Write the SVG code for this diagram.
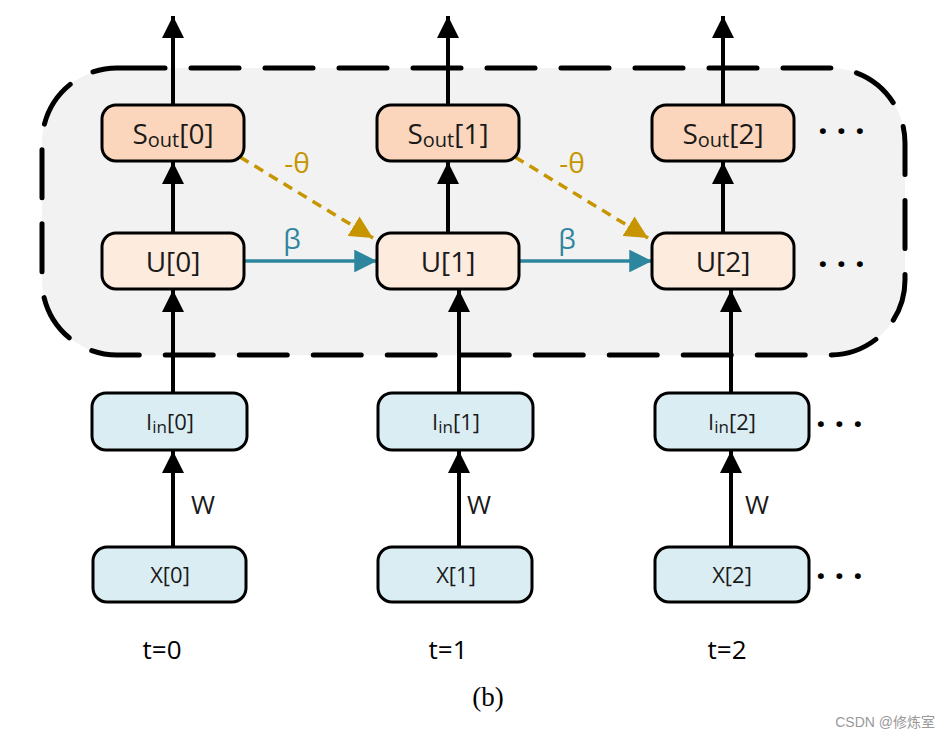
<svg xmlns="http://www.w3.org/2000/svg" width="951" height="737" viewBox="0 0 951 737">
<defs>
<style>
.box{stroke:#000;stroke-width:3}
.s{fill:#fbd6bc}
.u{fill:#fdebdd}
.b{fill:#daedf3}
.t{font-family:"Open Sans","Noto Sans",sans-serif;fill:#1a1a1a;text-anchor:middle}
.big{font-size:28px}
.sm{font-size:22px}
.sub{font-size:20px}
.dots{font-family:"Open Sans",sans-serif;font-size:34px;font-weight:bold;fill:#000}
.k{stroke:#000;stroke-width:4;fill:none}
.lab{font-family:"Open Sans","Noto Sans",sans-serif;text-anchor:middle}
</style>
<marker id="ak" viewBox="0 0 10 10" refX="10" refY="5" markerWidth="5.5" markerHeight="5.5" markerUnits="strokeWidth" orient="auto"><path d="M0,0L10,5L0,10z" fill="#000"/></marker>
<marker id="at" viewBox="0 0 10 10" refX="10" refY="5" markerWidth="6.5" markerHeight="6.5" markerUnits="strokeWidth" orient="auto"><path d="M0,0L10,5L0,10z" fill="#2e869e"/></marker>
<marker id="ag" viewBox="0 0 10 10" refX="10" refY="5" markerWidth="6.5" markerHeight="6.5" markerUnits="strokeWidth" orient="auto"><path d="M0,0L10,5L0,10z" fill="#c69500"/></marker>
</defs>
<rect width="951" height="737" fill="#fff"/>
<rect x="42" y="68" width="863" height="287" rx="75" fill="#f2f2f2" stroke="#000" stroke-width="5" stroke-dasharray="48,26" stroke-linecap="round"/>
<g id="connectors">
<line class="k" x1="173" y1="105" x2="173" y2="16" marker-end="url(#ak)"/>
<line class="k" x1="448" y1="105" x2="448" y2="16" marker-end="url(#ak)"/>
<line class="k" x1="723" y1="105" x2="723" y2="16" marker-end="url(#ak)"/>
<line class="k" x1="173" y1="233" x2="173" y2="162" marker-end="url(#ak)"/>
<line class="k" x1="448" y1="233" x2="448" y2="162" marker-end="url(#ak)"/>
<line class="k" x1="723" y1="233" x2="723" y2="162" marker-end="url(#ak)"/>
<line class="k" x1="173" y1="393" x2="173" y2="290" marker-end="url(#ak)"/>
<line class="k" x1="459" y1="393" x2="459" y2="290" marker-end="url(#ak)"/>
<line class="k" x1="731" y1="393" x2="731" y2="290" marker-end="url(#ak)"/>
<line class="k" x1="173" y1="547" x2="173" y2="451" marker-end="url(#ak)"/>
<line class="k" x1="459" y1="547" x2="459" y2="451" marker-end="url(#ak)"/>
<line class="k" x1="731" y1="547" x2="731" y2="451" marker-end="url(#ak)"/>
<line x1="244" y1="261" x2="377" y2="261" stroke="#2e869e" stroke-width="3.5" marker-end="url(#at)"/>
<line x1="519" y1="261" x2="652" y2="261" stroke="#2e869e" stroke-width="3.5" marker-end="url(#at)"/>
<line x1="240" y1="157" x2="373" y2="238" stroke="#c69500" stroke-width="3.5" stroke-dasharray="10,7" marker-end="url(#ag)"/>
<line x1="515" y1="157" x2="648" y2="238" stroke="#c69500" stroke-width="3.5" stroke-dasharray="10,7" marker-end="url(#ag)"/>
<text class="lab" x="292" y="249" font-size="28" fill="#2e869e">β</text>
<text class="lab" x="567" y="249" font-size="28" fill="#2e869e">β</text>
<text class="lab" x="297" y="173" font-size="28" fill="#c69500">-θ</text>
<text class="lab" x="572" y="173" font-size="28" fill="#c69500">-θ</text>
<text class="lab" x="203" y="514" font-size="26" fill="#1a1a1a">W</text>
<text class="lab" x="479" y="514" font-size="26" fill="#1a1a1a">W</text>
<text class="lab" x="757" y="514" font-size="26" fill="#1a1a1a">W</text>
</g>
<g id="sout0"><rect class="box s" x="102" y="105" width="142" height="56" rx="14"/><text class="t big" x="173" y="144">S<tspan class="sub" dy="3">out</tspan><tspan dy="-3">[0]</tspan></text></g>
<g id="sout1"><rect class="box s" x="377" y="105" width="142" height="56" rx="14"/><text class="t big" x="448" y="144">S<tspan class="sub" dy="3">out</tspan><tspan dy="-3">[1]</tspan></text></g>
<g id="sout2"><rect class="box s" x="652" y="105" width="142" height="56" rx="14"/><text class="t big" x="723" y="144">S<tspan class="sub" dy="3">out</tspan><tspan dy="-3">[2]</tspan></text></g>
<g id="u0"><rect class="box u" x="102" y="233" width="142" height="56" rx="14"/><text class="t big" x="173" y="272">U[0]</text></g>
<g id="u1"><rect class="box u" x="377" y="233" width="142" height="56" rx="14"/><text class="t big" x="448" y="272">U[1]</text></g>
<g id="u2"><rect class="box u" x="652" y="233" width="142" height="56" rx="14"/><text class="t big" x="723" y="272">U[2]</text></g>
<g id="iin0"><rect class="box b" x="92" y="393" width="155" height="57" rx="14"/><text class="t sm" x="170" y="430">I<tspan font-size="17" dy="3">in</tspan><tspan dy="-3">[0]</tspan></text></g>
<g id="iin1"><rect class="box b" x="378" y="393" width="155" height="57" rx="14"/><text class="t sm" x="456" y="430">I<tspan font-size="17" dy="3">in</tspan><tspan dy="-3">[1]</tspan></text></g>
<g id="iin2"><rect class="box b" x="655" y="393" width="154" height="57" rx="14"/><text class="t sm" x="732" y="430">I<tspan font-size="17" dy="3">in</tspan><tspan dy="-3">[2]</tspan></text></g>
<g id="x0"><rect class="box b" x="93" y="547" width="153" height="55" rx="14"/><text class="t sm" x="170" y="583">X[0]</text></g>
<g id="x1"><rect class="box b" x="378" y="547" width="154" height="55" rx="14"/><text class="t sm" x="456" y="583">X[1]</text></g>
<g id="x2"><rect class="box b" x="655" y="547" width="154" height="55" rx="14"/><text class="t sm" x="732" y="583">X[2]</text></g>
<g id="dots">
<text class="dots" x="818" y="143">· · ·</text>
<text class="dots" x="818" y="276">· · ·</text>
<text class="dots" x="816" y="436">· · ·</text>
<text class="dots" x="816" y="588">· · ·</text>
</g>
<g id="labels">
<text class="lab" x="162" y="659" font-size="26" fill="#000">t=0</text>
<text class="lab" x="448" y="659" font-size="26" fill="#000">t=1</text>
<text class="lab" x="727" y="659" font-size="26" fill="#000">t=2</text>
<text x="488" y="706" font-family="Liberation Serif,serif" font-size="27" fill="#000" text-anchor="middle">(b)</text>
<text x="935" y="727" font-family="Liberation Sans,Noto Sans CJK SC,sans-serif" font-size="14" fill="#999" text-anchor="end">CSDN @修炼室</text>
</g>
</svg>
